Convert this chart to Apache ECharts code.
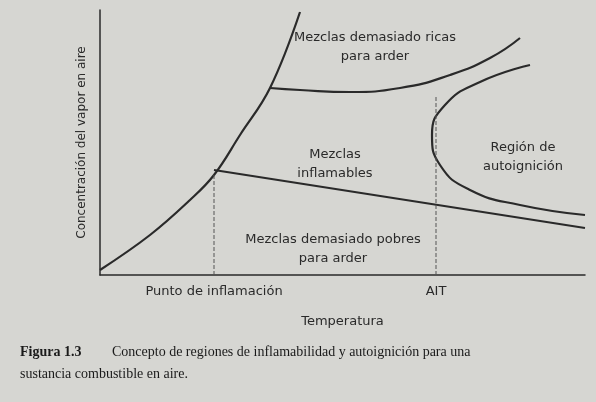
<!DOCTYPE html>
<html><head><meta charset="utf-8">
<script src="https://cdn.jsdelivr.net/npm/echarts@6/dist/echarts.min.js"></script>
<style>html,body{margin:0;background:#d6d6d2}#c{width:596px;height:402px}</style>
</head><body><div id="c"></div>
<script>
const vaporCurve=[[0,5],[50,40],[90,75],[114,100],[140,140],[170,187],[200,263]];
const upperLimit=[[170,187],[200,185],[250,183],[300,187],[350,200],[390,217],[420,237]];
const lowerLimit=[[114,105],[485,47]];
const aitCurve=[[430,210],[380,193],[345,170],[332,140],[340,110],[370,85],[420,70],[485,60]];
const tickValues=[114,336];
const tickLabels={114:'Punto de inflamación',336:'AIT'};
const dashFlash=[[114,0],[114,100]];
const dashAIT=[[336,0],[336,180]];
const regionLabels=[
 {x:375,y:28,t:'Mezclas demasiado ricas\npara arder'},
 {x:335,y:145,t:'Mezclas\ninflamables'},
 {x:523,y:138,t:'Región de\nautoignición'},
 {x:333,y:230,t:'Mezclas demasiado pobres\npara arder'}
];
const ink='#2a2a2a';
const line=(d,smooth,extra)=>Object.assign({type:'line',data:d,smooth:smooth,showSymbol:false,lineStyle:{color:ink,width:2.2},silent:true},extra||{});
const chart=echarts.init(document.getElementById('c'));
chart.setOption({
 animation:false,
 grid:{left:100,right:11,top:10,bottom:127},
 xAxis:{type:'value',min:0,max:485,splitLine:{show:false},axisLine:{lineStyle:{color:ink,width:1.5}},axisTick:{show:false},
  axisLabel:{customValues:tickValues,formatter:v=>tickLabels[v]||'',color:ink,fontSize:13,fontFamily:'DejaVu Sans',margin:10},
  name:'Temperatura',nameLocation:'middle',nameGap:40,nameTextStyle:{color:ink,fontSize:13,fontFamily:'DejaVu Sans'}},
 yAxis:{type:'value',min:0,max:265,splitLine:{show:false},axisLine:{lineStyle:{color:ink,width:1.5}},axisTick:{show:false},axisLabel:{show:false},
  name:'Concentración del vapor en aire',nameLocation:'middle',nameGap:12,nameTextStyle:{color:ink,fontSize:12,fontFamily:'DejaVu Sans'}},
 series:[
  line(vaporCurve,0.4),line(upperLimit,0.5),line(lowerLimit,false,{lineStyle:{color:ink,width:2}}),line(aitCurve,0.5),
  line(dashFlash,false,{lineStyle:{color:'#555',width:1,type:'dashed'}}),
  line(dashAIT,false,{lineStyle:{color:'#555',width:1,type:'dashed'}})
 ],
 graphic:regionLabels.map(r=>({type:'text',left:r.x,top:r.y,style:{text:r.t,x:0,y:0,align:'center',fill:ink,font:'13px DejaVu Sans',lineHeight:19},position:[r.x,r.y],left:null,top:null}))
 .concat([
  {type:'text',x:20,y:345,style:{text:'Figura 1.3',fill:'#1a1a1a',font:'bold 14px Liberation Serif'}},
  {type:'text',x:112,y:345,style:{text:'Concepto de regiones de inflamabilidad y autoignición para una',fill:'#1a1a1a',font:'14px Liberation Serif'}},
  {type:'text',x:20,y:367,style:{text:'sustancia combustible en aire.',fill:'#1a1a1a',font:'14px Liberation Serif'}}
 ])
});
</script></body></html>
